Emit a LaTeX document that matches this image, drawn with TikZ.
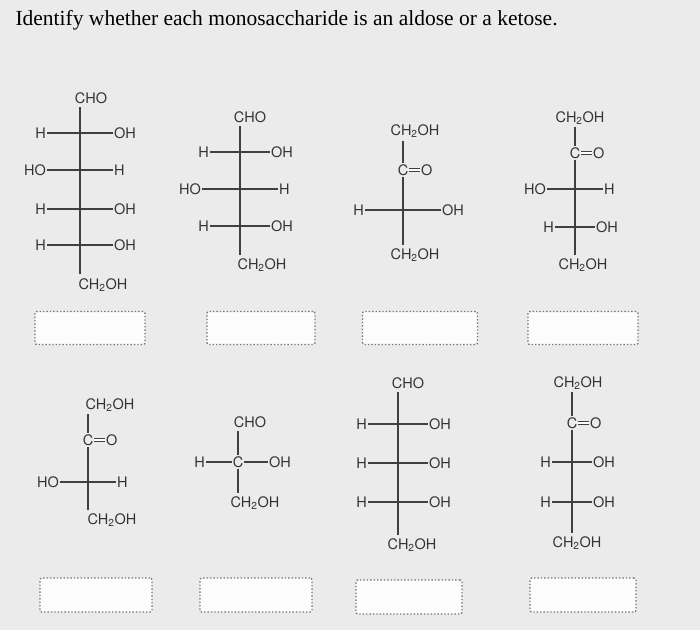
\documentclass[tikz,border=0pt]{standalone}
\usepackage{fontspec}
\setmainfont{TeX Gyre Heros}
\newfontfamily\titlefont{Liberation Serif}
\begin{document}
\begin{tikzpicture}[x=1pt,y=-1pt,
  lab/.style={inner sep=1pt,font=\fontsize{14.5}{14.5}\selectfont,text=black!80},
  bond/.style={line width=1.3pt,black!75},
  ansbox/.style={draw=black!55,dotted,line width=1.4pt,fill=white!60!black!3,rounded corners=2pt}]
\fill[black!8] (0,0) rectangle (700,630);
\useasboundingbox (0,0) rectangle (700,630);
\node[anchor=west,font=\titlefont\fontsize{21.5}{21.5}\selectfont] (title) at (12,20) {Identify whether each monosaccharide is an aldose or a ketose.};
\newcommand\xrow[6]{% name x y left right half
  \node[lab,anchor=east] (#1l) at ({#2-#6},#3) {#4};
  \node[lab,anchor=west] (#1r) at ({#2+#6},#3) {#5};
  \draw[bond] (#1l.east) -- (#1r.west);}
\newcommand\CHtwo{CH\textsubscript{2}OH}
% 1
\node[lab] (a1t) at (91,98) {CHO};
\xrow{a1a}{80}{133}{H}{OH}{33}
\xrow{a1b}{80}{170}{HO}{H}{33}
\xrow{a1c}{80}{209}{H}{OH}{33}
\xrow{a1d}{80}{245}{H}{OH}{33}
\node[lab] (a1b2) at (103,285) {\CHtwo};
\draw[bond] (80,107) -- (80,274);
\node[ansbox,minimum width=110,minimum height=33] (box1) at (90,328) {};
% 2
\node[lab] (a2t) at (250,117) {CHO};
\xrow{a2a}{240}{152}{H}{OH}{30}
\xrow{a2b}{240}{189}{HO}{H}{38}
\xrow{a2c}{240}{226}{H}{OH}{30}
\node[lab] (a2b2) at (262,265) {\CHtwo};
\draw[bond] (240,126) -- (240,255);
\node[ansbox,minimum width=108,minimum height=33] (box2) at (261,328) {};
% 3
\node[lab] (a3t) at (415,131) {\CHtwo};
\node[lab] (a3c) at (403,170) {C};
\node[lab,anchor=west] (a3o) at (420,170) {O};
\draw[bond,double,double distance=2pt] (a3c.east) -- (a3o.west);
\xrow{a3a}{403}{210}{H}{OH}{38}
\node[lab] (a3b) at (415,255) {\CHtwo};
\draw[bond] (403,141) -- (a3c.north);
\draw[bond] (a3c.south) -- (403,245);
\node[ansbox,minimum width=115,minimum height=33] (box3) at (420,328) {};
% 4
\node[lab] (a4t) at (580,118) {\CHtwo};
\node[lab] (a4c) at (575,153) {C};
\node[lab,anchor=west] (a4o) at (592,153) {O};
\draw[bond,double,double distance=2pt] (a4c.east) -- (a4o.west);
\xrow{a4a}{575}{189}{HO}{H}{28}
\xrow{a4b}{575}{227}{H}{OH}{20}
\node[lab] (a4b2) at (583,265) {\CHtwo};
\draw[bond] (575,127) -- (a4c.north);
\draw[bond] (a4c.south) -- (575,255);
\node[ansbox,minimum width=110,minimum height=33] (box4) at (583,328) {};
% 5
\node[lab] (a5t) at (110,405) {\CHtwo};
\node[lab] (a5c) at (88,440) {C};
\node[lab,anchor=west] (a5o) at (105,440) {O};
\draw[bond,double,double distance=2pt] (a5c.east) -- (a5o.west);
\xrow{a5a}{88}{482}{HO}{H}{28}
\node[lab] (a5b) at (112,520) {\CHtwo};
\draw[bond] (88,414) -- (a5c.north);
\draw[bond] (a5c.south) -- (88,510);
\node[ansbox,minimum width=112,minimum height=34] (box5) at (96,595) {};
% 6
\node[lab] (a6t) at (250,422) {CHO};
\node[lab] (a6c) at (238,462) {C};
\node[lab,anchor=east] (a6h) at (206,462) {H};
\node[lab,anchor=west] (a6o) at (268,462) {OH};
\draw[bond] (a6h.east) -- (a6c.west);
\draw[bond] (a6c.east) -- (a6o.west);
\draw[bond] (238,431) -- (a6c.north);
\draw[bond] (a6c.south) -- (238,493);
\node[lab] (a6b) at (255,503) {\CHtwo};
\node[ansbox,minimum width=112,minimum height=34] (box6) at (256,595) {};
% 7
\node[lab] (a7t) at (408,383) {CHO};
\xrow{a7a}{398}{424}{H}{OH}{30}
\xrow{a7b}{398}{463}{H}{OH}{30}
\xrow{a7c}{398}{502}{H}{OH}{30}
\node[lab] (a7b2) at (412,545) {\CHtwo};
\draw[bond] (398,392) -- (398,535);
\node[ansbox,minimum width=106,minimum height=34] (box7) at (409,597) {};
% 8
\node[lab] (a8t) at (578,383) {\CHtwo};
\node[lab] (a8c) at (572,423) {C};
\node[lab,anchor=west] (a8o) at (589,423) {O};
\draw[bond,double,double distance=2pt] (a8c.east) -- (a8o.west);
\xrow{a8a}{572}{462}{H}{OH}{20}
\xrow{a8b}{572}{502}{H}{OH}{20}
\node[lab] (a8b2) at (577,543) {\CHtwo};
\draw[bond] (572,392) -- (a8c.north);
\draw[bond] (a8c.south) -- (572,533);
\node[ansbox,minimum width=106,minimum height=34] (box8) at (583,595) {};
\end{tikzpicture}
\end{document}
